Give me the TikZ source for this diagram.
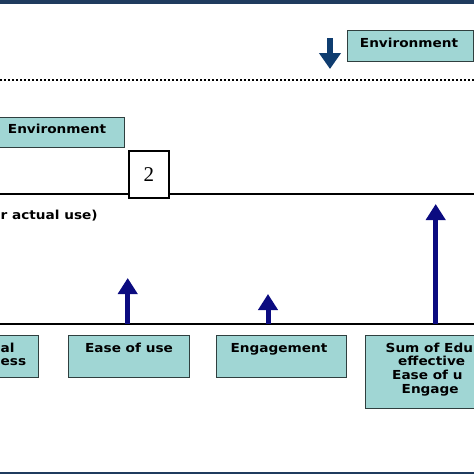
\documentclass[tikz,border=0pt]{standalone}
\usepackage{fontspec}
\setmainfont{Liberation Serif}
\newfontfamily\vfont[FakeStretch=1.1]{DejaVu Sans}
\usetikzlibrary{arrows.meta}
\definecolor{boxfill}{HTML}{A0D6D4}
\definecolor{boxline}{HTML}{2F3F3F}
\definecolor{topnavy}{HTML}{0F3D70}
\definecolor{arrnavy}{HTML}{0B0B80}
\definecolor{framecol}{HTML}{1F3B5E}
\tikzset{
  lbl/.style={font=\vfont\bfseries\fontsize{12.4}{14}\selectfont, inner sep=0pt},
  tealbox/.style={draw=boxline, fill=boxfill, line width=1.2pt, anchor=north west, inner sep=0pt},
  uparrow/.style={draw=arrnavy, line width=5pt, -{Triangle[width=19pt,length=16pt]}},
  downarrow/.style={draw=topnavy, line width=6.5pt, -{Triangle[width=21pt,length=16pt]}},
  rule/.style={draw=black, line width=1.5pt},
  dotrule/.style={draw=black, line width=2.6pt, dash pattern=on 2.4pt off 1.6pt},
}
\begin{document}
\begin{tikzpicture}[x=1pt,y=-1pt]
\useasboundingbox (0,0) rectangle (474,474);
\clip (0,0) rectangle (474,474);
\fill[white] (0,0) rectangle (474,474);
\fill[framecol] (0,0) rectangle (474,4);
\fill[framecol] (0,471.5) rectangle (474,474);

% top right environment
\node[tealbox, minimum width=126pt, minimum height=31pt] (envR) at (347,30) {};
\node[lbl, anchor=base] (envRt) at (409,47) {Environment};
\coordinate (dA) at (330,38);
\coordinate (dB) at (330,69);
\draw[downarrow] (dA) -- (dB);

% dotted line
\coordinate (dl1) at (0,80);
\coordinate (dl2) at (474,80);
\draw[dotrule] (dl1) -- (dl2);

% left environment
\node[tealbox, minimum width=134pt, minimum height=30pt] (envL) at (-10,117) {};
\node[lbl, anchor=base] (envLt) at (57,133.5) {Environment};

% solid line with box 2
\coordinate (sl1) at (0,194);
\coordinate (sl2) at (474,194);
\draw[rule] (sl1) -- (sl2);
\node[draw=black, line width=1.5pt, fill=white, anchor=north west, inner sep=0pt,
      minimum width=40pt, minimum height=47pt, font=\fontsize{21}{21}\selectfont] (two) at (128,150) {2};

\node[lbl, anchor=base west] (actual) at (0.5,219.5) {r actual use)};

% baseline
\coordinate (bl1) at (0,324);
\coordinate (bl2) at (474,324);
\draw[rule] (bl1) -- (bl2);

% arrows
\coordinate (a1b) at (127.7,324);
\coordinate (a1t) at (127.7,278);
\coordinate (a2b) at (268,324);
\coordinate (a2t) at (268,294);
\coordinate (a3b) at (435.7,324);
\coordinate (a3t) at (435.7,204);
\draw[uparrow] (a1b) -- (a1t);
\draw[uparrow] (a2b) -- (a2t);
\draw[uparrow] (a3b) -- (a3t);

% bottom boxes
\node[tealbox, minimum width=128pt, minimum height=42pt] (edu) at (-90,335) {};
\node[lbl, anchor=base west] (edut1) at (0.5,352) {al};
\node[lbl, anchor=base west] (edut2) at (0.5,365.8) {ess};

\node[tealbox, minimum width=121pt, minimum height=42pt] (ease) at (68,335) {};
\node[lbl, anchor=base] (easet) at (129,352) {Ease of use};

\node[tealbox, minimum width=130pt, minimum height=42pt] (eng) at (216,335) {};
\node[lbl, anchor=base] (engt) at (279,352) {Engagement};

\node[tealbox, minimum width=130pt, minimum height=72.5pt] (sum) at (364.5,335) {};
\node[lbl, anchor=base west] (sumt1) at (385.5,352) {Sum of Edu};
\node[lbl, anchor=base west] (sumt2) at (398,365.8) {effective};
\node[lbl, anchor=base west] (sumt3) at (392,379.6) {Ease of u};
\node[lbl, anchor=base west] (sumt4) at (401.5,393.4) {Engage};
\end{tikzpicture}
\end{document}
